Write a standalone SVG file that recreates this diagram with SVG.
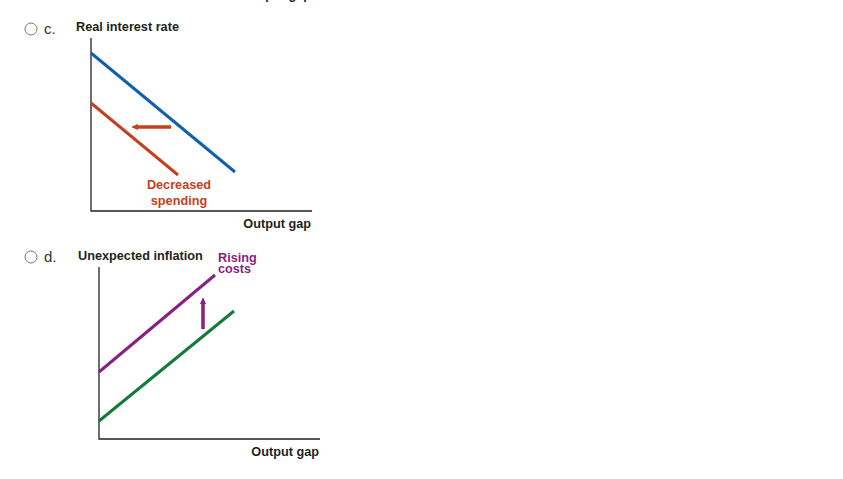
<svg xmlns="http://www.w3.org/2000/svg" width="843" height="479" viewBox="0 0 843 479">
<style>
text{font-family:"Liberation Sans",Arial,sans-serif}
.t{font-size:12.7px;font-weight:bold;fill:#231f20}
.o{font-size:15px;fill:#333}
.ax{stroke:#231f20;stroke-width:1.3;fill:none}
</style>
<defs>
<marker id="hr" markerWidth="6" markerHeight="6" refX="2" refY="3" orient="auto" markerUnits="userSpaceOnUse"><path d="M0,0L7,3L0,6z" fill="#c5401d"/></marker>
<marker id="hp" markerWidth="6" markerHeight="6" refX="2" refY="3" orient="auto" markerUnits="userSpaceOnUse"><path d="M0,0L7,3L0,6z" fill="#8a1f83"/></marker>
</defs>
<rect width="843" height="479" fill="#fff"/>
<text class="t" x="311" y="-1" text-anchor="end">Output gap</text>
<g id="optc">
<circle cx="31" cy="29" r="6" fill="none" stroke="#777"/>
<text class="o" x="44" y="34">c.</text>
<text class="t" x="76" y="31">Real interest rate</text>
<path class="ax" d="M91,38V211H312"/>
<text class="t" x="311" y="228" text-anchor="end">Output gap</text>
</g>
<g id="c-lines">
<line x1="91" y1="53" x2="235" y2="172" stroke="#1060b0" stroke-width="3"/>
<line x1="91" y1="103" x2="178" y2="175" stroke="#c5401d" stroke-width="3"/>
<line x1="171" y1="127" x2="136" y2="127" stroke="#c5401d" stroke-width="3.5" marker-end="url(#hr)"/>
<text class="t" x="179" y="189" text-anchor="middle" style="fill:#c5401d">Decreased</text>
<text class="t" x="179" y="205" text-anchor="middle" style="fill:#c5401d">spending</text>
</g>
<g id="optd">
<circle cx="31" cy="257" r="6" fill="none" stroke="#777"/>
<text class="o" x="44" y="262">d.</text>
<text class="t" x="78" y="260">Unexpected inflation</text>
<path class="ax" d="M99,267V439H320"/>
<text class="t" x="319" y="456" text-anchor="end">Output gap</text>
</g>
<g id="d-lines">
<line x1="99" y1="372" x2="215" y2="275" stroke="#8a1f83" stroke-width="3"/>
<line x1="99" y1="421" x2="234" y2="311" stroke="#137a3a" stroke-width="3"/>
<line x1="203" y1="329" x2="203" y2="302" stroke="#8a1f83" stroke-width="3.5" marker-end="url(#hp)"/>
<text class="t" x="218" y="262" style="fill:#8a1f83">Rising</text>
<text class="t" x="218" y="273" style="fill:#8a1f83">costs</text>
</g>
</svg>
